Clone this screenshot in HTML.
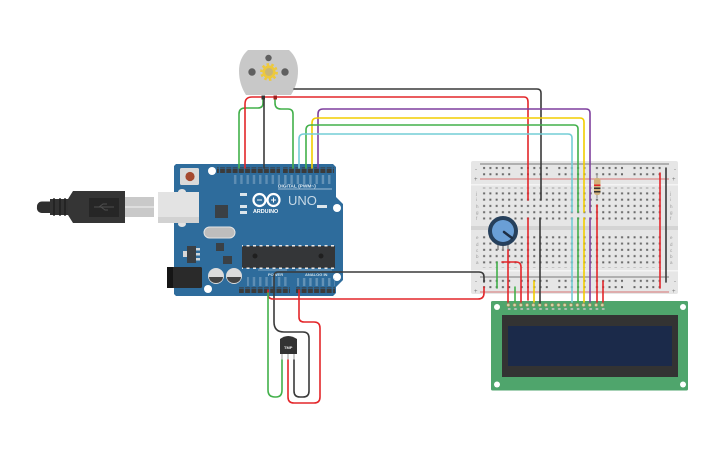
<!DOCTYPE html>
<html><head><meta charset="utf-8"><style>
html,body{margin:0;padding:0;background:#fff;width:725px;height:453px;overflow:hidden}
svg{display:block}
text{font-family:"Liberation Sans",sans-serif}
.w{fill:none;stroke-width:1.6;stroke-linecap:round;stroke-linejoin:round}
.r{stroke:#e3262a}.k{stroke:#3a3a3a}.g{stroke:#42b04a}.c{stroke:#74cdd6}.y{stroke:#f2cd00}.p{stroke:#7e3f9d}
</style></head><body>
<svg width="725" height="453" viewBox="0 0 725 453" xmlns="http://www.w3.org/2000/svg">
<defs>
<pattern id="h" x="481" y="190.2" width="6.27" height="6.27" patternUnits="userSpaceOnUse"><rect x="2.1" y="2.2" width="2" height="2" fill="#666"/></pattern>
<pattern id="rh" x="481" y="165" width="37.6" height="6.27" patternUnits="userSpaceOnUse"><g fill="#666"><rect x="2.1" y="2" width="2" height="2"/><rect x="8.4" y="2" width="2" height="2"/><rect x="14.7" y="2" width="2" height="2"/><rect x="20.9" y="2" width="2" height="2"/><rect x="27.2" y="2" width="2" height="2"/></g></pattern>
<pattern id="t" x="481" y="0" width="6.27" height="6" patternUnits="userSpaceOnUse"><rect x="1.8" y="1" width="2.6" height="3" fill="#c4c4c4"/></pattern>
<pattern id="hd" x="0" y="0" width="6.27" height="6" patternUnits="userSpaceOnUse"><rect x="0.6" y="0.6" width="5" height="5" fill="#3b3b3b"/></pattern>
<pattern id="lb" x="0" y="0" width="6.27" height="9" patternUnits="userSpaceOnUse"><rect x="2" y="0" width="2.4" height="9" fill="#a9c2d6"/></pattern>
<pattern id="mp" x="245" y="0" width="6.5" height="3" patternUnits="userSpaceOnUse"><rect x="1.5" y="0" width="3" height="3" fill="#e8e8e8"/></pattern>
</defs>

<!-- USB cable -->
<rect x="125" y="197" width="29" height="20" fill="#c9c9c9"/>
<rect x="125" y="206" width="29" height="2" fill="#dedede"/>
<path d="M37 207a5 5 0 0 1 5-5.5H50V213H42a5 5 0 0 1-5-6z" fill="#2f2f2f"/>
<rect x="50" y="199" width="18" height="16" fill="#333"/>
<path d="M54 198v18M60 198v18M65 198v18" stroke="#1d1d1d" stroke-width="1.3"/>
<path d="M68 199L73 191H125V223H73L68 215z" fill="#353535"/>
<rect x="89" y="198" width="30" height="19" fill="#262626"/>
<path d="M94 207h20M99 207l4-3h4M101 207l4 3h3" stroke="#4d4d4d" stroke-width="1" fill="none"/>

<!-- Arduino board -->
<path d="M176 164H333L336 167V197L343 204V280L336 287V293L333 296H176L174 294V166z" fill="#2e6c9c"/>
<ellipse cx="182" cy="192" rx="4" ry="3" fill="#e3e3e3"/><ellipse cx="182" cy="224" rx="4" ry="3" fill="#e3e3e3"/>
<rect x="158" y="192" width="41" height="31" fill="#e3e3e3"/>
<rect x="158" y="217" width="41" height="6" fill="#d2d2d2"/>
<rect x="180" y="168" width="19" height="17" rx="1.5" fill="#d9d9d9"/>
<circle cx="190" cy="176.5" r="4.6" fill="#a5492f"/>
<g fill="#fff"><circle cx="212" cy="171" r="4"/><circle cx="337" cy="208" r="4"/><circle cx="337" cy="277" r="4"/><circle cx="208" cy="289" r="4"/></g>
<rect x="217" y="167" width="63" height="6" fill="url(#hd)"/>
<rect x="283" y="167" width="51" height="6" fill="url(#hd)"/>
<rect x="239" y="287" width="51" height="6" fill="url(#hd)"/>
<rect x="296" y="287" width="39" height="6" fill="url(#hd)"/>
<rect x="232" y="175" width="48" height="9" fill="url(#lb)" opacity=".4"/>
<rect x="283" y="175" width="50" height="9" fill="url(#lb)" opacity=".45"/>
<rect x="247" y="277" width="40" height="9" fill="url(#lb)" opacity=".4"/>
<rect x="297" y="278" width="38" height="8" fill="url(#lb)" opacity=".45"/>
<path d="M278 189H332" stroke="#c6d8e6" stroke-width=".8"/>
<text x="278" y="187.5" font-size="4.8" font-weight="bold" fill="#dfe9f1">DIGITAL (PWM~)</text>
<path d="M258 270H287M296 270H332" stroke="#9dbcd2" stroke-width=".7"/>
<text x="268" y="276" font-size="4" font-weight="bold" fill="#cfe0ea">POWER</text>
<text x="305" y="276" font-size="4" font-weight="bold" fill="#cfe0ea">ANALOG IN</text>
<circle cx="259.5" cy="200" r="6" fill="none" stroke="#fff" stroke-width="2.2"/>
<circle cx="273.5" cy="200" r="6" fill="none" stroke="#fff" stroke-width="2.2"/>
<path d="M257 200h5M271 200h5M273.5 197.5v5" stroke="#fff" stroke-width="1"/>
<text x="253" y="213" font-size="5.4" font-weight="bold" fill="#fff">ARDUINO</text>
<text x="288" y="205" font-size="13" fill="#c7d9e6">UNO</text>
<rect x="215" y="205" width="13" height="13" fill="#3a4045"/>
<g fill="#dbe5ec"><rect x="240" y="193" width="7" height="3"/><rect x="240" y="205" width="7" height="3"/><rect x="240" y="211" width="7" height="3"/><rect x="317" y="205" width="10" height="3"/></g>
<rect x="204" y="227" width="31" height="11" rx="5.5" fill="#bdbdbd" stroke="#e4e4e4" stroke-width="1"/>
<rect x="216" y="243" width="8" height="8" fill="#3a4045"/>
<rect x="183" y="251" width="4" height="6" fill="#d8d8d8"/>
<rect x="187" y="246" width="9" height="17" fill="#3a4045"/>
<g fill="#cfd6db"><rect x="196" y="248" width="4" height="2.5"/><rect x="196" y="253" width="4" height="2.5"/><rect x="196" y="258" width="4" height="2.5"/></g>
<rect x="223" y="256" width="9" height="8" fill="#3a4045"/>
<rect x="242" y="246" width="93" height="22" fill="#343638"/>
<rect x="242" y="245" width="93" height="1.5" fill="url(#mp)"/>
<rect x="242" y="267.5" width="93" height="1.5" fill="url(#mp)"/>
<circle cx="255" cy="256" r="2.5" fill="#1f1f1f"/><circle cx="321" cy="256" r="2.5" fill="#1f1f1f"/>
<rect x="167" y="267" width="35" height="21" rx="1.5" fill="#2a2a2a"/>
<rect x="167" y="267" width="6" height="21" fill="#151515"/>
<circle cx="216" cy="276" r="8" fill="#dcdcdc"/><path d="M209 277a7 6 0 0 0 14 0z" fill="#444"/>
<circle cx="234" cy="276" r="8" fill="#dcdcdc"/><path d="M227 277a7 6 0 0 0 14 0z" fill="#444"/>

<!-- Breadboard -->
<rect x="471" y="161" width="207" height="133" rx="2" fill="#e6e6e6"/>
<rect x="471" y="184" width="207" height="1.5" fill="#f4f4f4"/>
<rect x="471" y="270" width="207" height="1.5" fill="#f4f4f4"/>
<rect x="471" y="226" width="207" height="4" fill="#d4d4d4"/>
<path d="M480 164H669M480 277H669" stroke="#8f8f8f" stroke-width="1.2"/>
<path d="M480 179H669M480 292H669" stroke="#d98a8a" stroke-width="1.2"/>
<rect x="481" y="165" width="188" height="12.5" fill="url(#rh)"/>
<rect x="481" y="278.9" width="188" height="12.5" fill="url(#rh)"/>
<rect x="481" y="190.5" width="182" height="31" fill="url(#h)"/>
<rect x="481" y="234.4" width="182" height="31" fill="url(#h)"/>
<rect x="481" y="186" width="182" height="3" fill="url(#t)"/>
<rect x="481" y="267" width="182" height="3" fill="url(#t)"/>
<g font-size="6" fill="#777"><text x="475" y="171">-</text><text x="674" y="171">-</text><text x="474" y="181">+</text><text x="672" y="181">+</text><text x="475" y="283">-</text><text x="674" y="283">-</text><text x="474" y="293">+</text><text x="672" y="293">+</text></g>
<g font-size="4.5" fill="#999"><text x="476" y="195">j</text><text x="476" y="201">i</text><text x="476" y="208">h</text><text x="476" y="214">g</text><text x="476" y="220">f</text><text x="476" y="239">e</text><text x="476" y="246">d</text><text x="476" y="252">c</text><text x="476" y="258">b</text><text x="476" y="264">a</text>
<text x="670" y="195">j</text><text x="670" y="201">i</text><text x="670" y="208">h</text><text x="670" y="214">g</text><text x="670" y="220">f</text><text x="670" y="239">e</text><text x="670" y="246">d</text><text x="670" y="252">c</text><text x="670" y="258">b</text><text x="670" y="264">a</text></g>

<!-- LCD -->
<rect x="491" y="301" width="197" height="89.5" rx="1.5" fill="#4fa56c"/>
<g fill="#fff"><circle cx="497" cy="307" r="3"/><circle cx="683" cy="307" r="3"/><circle cx="497" cy="384.5" r="3"/><circle cx="683" cy="384.5" r="3"/></g>
<rect x="502" y="315" width="176" height="62" fill="#333"/>
<rect x="508" y="326" width="164" height="40" fill="#1b2a4a"/>
<g fill="#d9d4a8" stroke="#9a8f5e" stroke-width=".6">
<circle cx="508.3" cy="305" r="1.6"/><circle cx="514.6" cy="305" r="1.6"/><circle cx="520.9" cy="305" r="1.6"/><circle cx="527.1" cy="305" r="1.6"/><circle cx="533.4" cy="305" r="1.6"/><circle cx="539.7" cy="305" r="1.6"/><circle cx="545.9" cy="305" r="1.6"/><circle cx="552.2" cy="305" r="1.6"/><circle cx="558.5" cy="305" r="1.6"/><circle cx="564.7" cy="305" r="1.6"/><circle cx="571" cy="305" r="1.6"/><circle cx="577.3" cy="305" r="1.6"/><circle cx="583.5" cy="305" r="1.6"/><circle cx="589.8" cy="305" r="1.6"/><circle cx="596.1" cy="305" r="1.6"/><circle cx="602.3" cy="305" r="1.6"/></g>
<rect x="505" y="308" width="100" height="4" fill="url(#t)" opacity=".8"/>

<!-- Potentiometer -->
<path d="M498 245v5M503 245v5M508 245v5" stroke="#888" stroke-width="1.5"/>
<circle cx="503" cy="231" r="15" fill="#26405c"/>
<circle cx="503" cy="231" r="11" fill="#6a9fd6"/>
<path d="M504 232L512 238" stroke="#1d2e44" stroke-width="2.5" stroke-linecap="round"/>

<!-- Resistor -->
<path d="M597 173V198" stroke="#999" stroke-width="1.2"/>
<rect x="594" y="178" width="6.5" height="17" rx="2.5" fill="#d2b27c"/>
<rect x="594" y="184.500" width="6.5" height="1.5" fill="#e3262a"/>
<rect x="594" y="187.500" width="6.5" height="1.5" fill="#333"/>
<rect x="594" y="191" width="6.5" height="1.5" fill="#333"/>

<!-- Motor -->
<path d="M248 50H289Q298 58 298 71Q298 84 291 95H246Q239 84 239 71Q239 58 248 50z" fill="#c8c8c8"/>
<circle cx="252" cy="72" r="3.7" fill="#5f5f5f"/><circle cx="285" cy="72" r="3.7" fill="#5f5f5f"/><circle cx="268.5" cy="58" r="3.2" fill="#5f5f5f"/>
<circle cx="269" cy="72" r="7.7" fill="none" stroke="#edc93c" stroke-width="2.4" stroke-dasharray="2.5 2.3"/>
<circle cx="269" cy="72" r="6.6" fill="#edc93c"/>
<circle cx="269" cy="72" r="4" fill="#c9b675"/>

<!-- TMP sensor -->
<path d="M282 354V360M288 354V360M294 354V360" stroke="#aaa" stroke-width="1.2"/>
<path d="M280 339Q288 333 297 339V354H280z" fill="#333"/>
<text x="284" y="349" font-size="4" font-weight="bold" fill="#eee">TMP</text>

<!-- Wires -->
<path class="w g" d="M239 168V114Q239 108 245 108H258Q263 108 263 103V97"/>
<path class="w r" d="M245 168V104Q245 97 252 97H524Q528 97 528 102V200"/>
<path class="w k" d="M264 97V168"/>
<path class="w g" d="M275 97V103Q275 109 281 109H288Q293 109 293 114V168"/>
<path class="w k" d="M294 89H537Q541 89 541 93V200"/>
<path class="w p" d="M318 168V114Q318 109 323 109H586Q590 109 590 113V212"/>
<path class="w y" d="M312 168V123Q312 118 317 118H580Q584 118 584 122V212"/>
<path class="w g" d="M306 168V130Q306 125 311 125H574Q578 125 578 129V212"/>
<path class="w c" d="M299 168V139Q299 134 304 134H568Q572 134 572 138V212"/>
<path class="w r" d="M528 218V300"/>
<path class="w k" d="M540 218V303"/>
<path class="w c" d="M572 218V302"/>
<path class="w g" d="M578 218V302"/>
<path class="w y" d="M584 218V302"/>
<path class="w p" d="M590 218V302"/>
<path class="w r" d="M597 205V302"/>
<path class="w r" d="M603 281V302"/>
<path class="w r" d="M660 173V288"/>
<path class="w k" d="M666 168V282"/>
<path class="w y" d="M534 281V302"/>
<path class="w g" d="M515 287V302"/>
<path class="w g" d="M497 262V288"/>
<path class="w r" d="M508 250V302"/>
<path class="w r" d="M502 262H516Q521 262 521 267V302"/>
<path class="w k" d="M484 282V277Q484 272 479 272H278Q274 272 274 277V322Q274 332 284 332H303Q309 332 309 338V391Q309 397 303 397H300Q294 397 294 391V360"/>
<path class="w r" d="M268 290V294Q268 299 273 299H478Q484 299 484 293V287"/>
<path class="w r" d="M299 290V317Q299 322 304 322H314Q320 322 320 328V397Q320 403 314 403H294Q288 403 288 397V360"/>
<path class="w g" d="M268 293V390Q268 397 275 397H276Q282 397 282 390V360"/>
<rect x="261.5" y="95.5" width="3.5" height="4" fill="#333"/>
<rect x="273.5" y="95.5" width="3.5" height="4" fill="#a02020"/>
</svg>
</body></html>
